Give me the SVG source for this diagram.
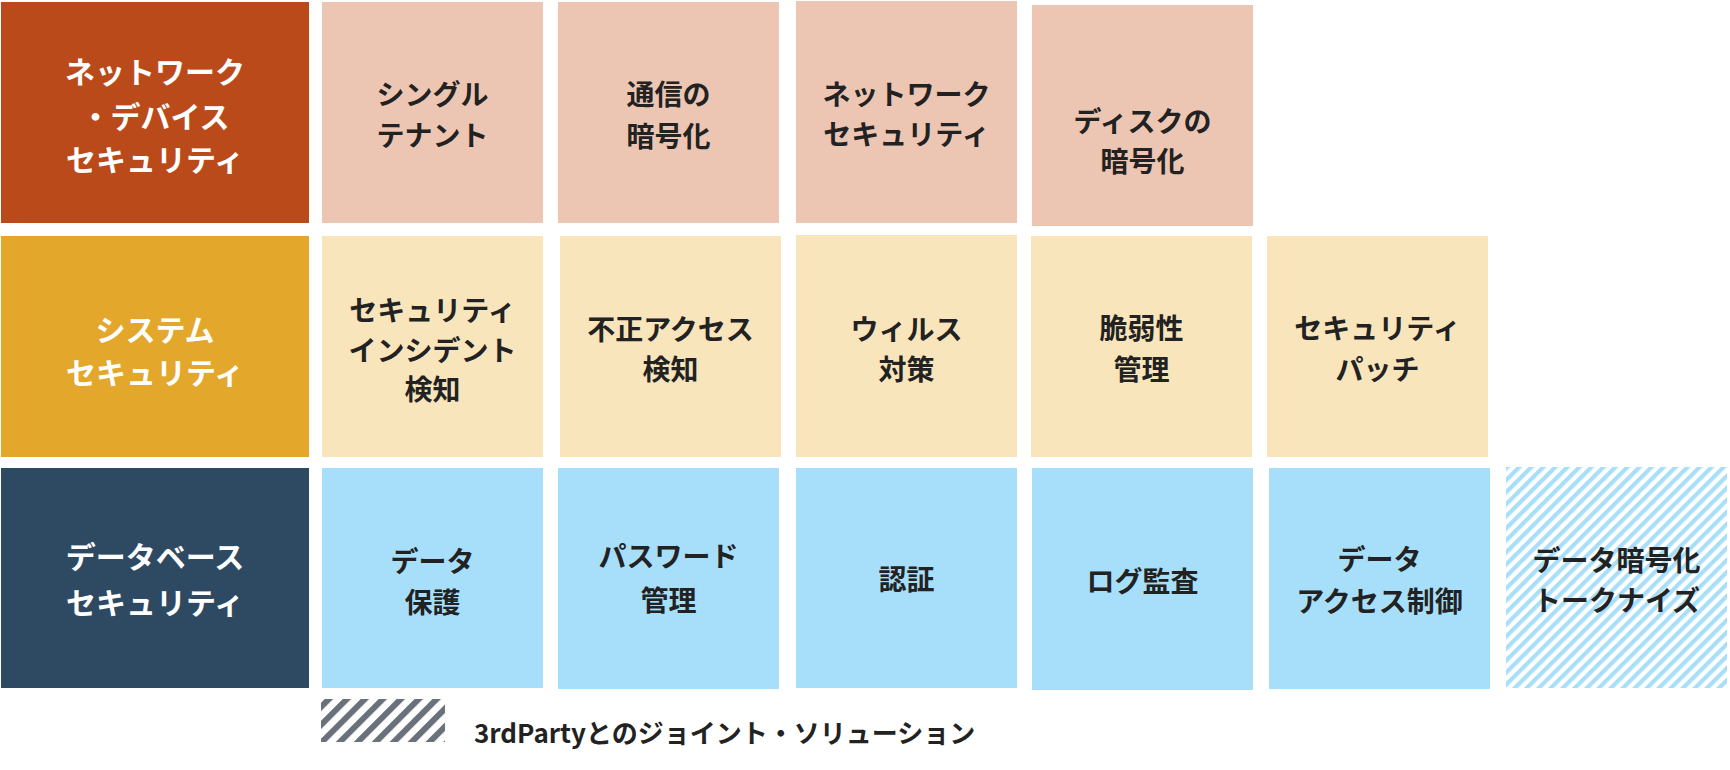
<svg xmlns="http://www.w3.org/2000/svg" width="1730" height="770" viewBox="0 0 1730 770">
  <style>
    text { font-family: "Noto Sans CJK JP", "Noto Sans", sans-serif; font-weight: bold; text-anchor: middle; dominant-baseline: central; }
    .hd { fill: #ffffff; font-size: 30px; }
    .cl { fill: #222222; font-size: 28px; }
    .lg { fill: #222222; font-size: 26px; text-anchor: start; }
    .h1 { fill: #bb4a1a; }
    .c1 { fill: #edc6b3; }
    .h2 { fill: #e2a72b; }
    .c2 { fill: #f9e5bb; }
    .h3 { fill: #2e4a62; }
    .c3 { fill: #a7dffb; }
  </style>
  <defs>
    <pattern id="hatchBlue" patternUnits="userSpaceOnUse" width="8.5" height="8.5" patternTransform="rotate(45)">
      <rect x="0" y="0" width="8.5" height="8.5" fill="#ffffff"/>
      <rect x="0" y="0" width="4.2" height="8.5" fill="#a7dffb"/>
    </pattern>
    <pattern id="hatchGray" patternUnits="userSpaceOnUse" width="12.7" height="12.7" patternTransform="rotate(45)">
      <rect x="0" y="0" width="12.7" height="12.7" fill="#ffffff"/>
      <rect x="0" y="0" width="6" height="12.7" fill="#6b717a"/>
    </pattern>
  </defs>
  <rect x="0" y="0" width="1730" height="770" fill="#ffffff"/>

  <g id="connectors"></g>

  <!-- Row 1 -->
  <g id="header-network">
    <rect class="h1" x="1" y="2" width="308" height="221"/>
    <text class="hd" x="155" y="70">ネットワーク</text>
    <text class="hd" x="155" y="115">・デバイス</text>
    <text class="hd" x="155" y="158">セキュリティ</text>
  </g>
  <g id="single-tenant">
    <rect class="c1" x="322" y="2" width="221" height="221"/>
    <text class="cl" x="432.5" y="93">シングル</text>
    <text class="cl" x="432.5" y="134">テナント</text>
  </g>
  <g id="comm-encryption">
    <rect class="c1" x="558" y="2" width="221" height="221"/>
    <text class="cl" x="668.5" y="93">通信の</text>
    <text class="cl" x="668.5" y="135">暗号化</text>
  </g>
  <g id="network-security">
    <rect class="c1" x="796" y="1" width="221" height="222"/>
    <text class="cl" x="906.5" y="93">ネットワーク</text>
    <text class="cl" x="906.5" y="133">セキュリティ</text>
  </g>
  <g id="disk-encryption">
    <rect class="c1" x="1032" y="5" width="221" height="221"/>
    <text class="cl" x="1142.5" y="120">ディスクの</text>
    <text class="cl" x="1142.5" y="160">暗号化</text>
  </g>

  <!-- Row 2 -->
  <g id="header-system">
    <rect class="h2" x="1" y="236" width="308" height="221"/>
    <text class="hd" x="155" y="328">システム</text>
    <text class="hd" x="155" y="371">セキュリティ</text>
  </g>
  <g id="incident-detection">
    <rect class="c2" x="322" y="236" width="221" height="221"/>
    <text class="cl" x="432.5" y="309">セキュリティ</text>
    <text class="cl" x="432.5" y="349">インシデント</text>
    <text class="cl" x="432.5" y="388">検知</text>
  </g>
  <g id="intrusion-detection">
    <rect class="c2" x="560" y="236" width="221" height="221"/>
    <text class="cl" x="670.5" y="328">不正アクセス</text>
    <text class="cl" x="670.5" y="368">検知</text>
  </g>
  <g id="antivirus">
    <rect class="c2" x="796" y="235" width="221" height="222"/>
    <text class="cl" x="906.5" y="328">ウィルス</text>
    <text class="cl" x="906.5" y="368">対策</text>
  </g>
  <g id="vulnerability">
    <rect class="c2" x="1031" y="236" width="221" height="221"/>
    <text class="cl" x="1141.5" y="327">脆弱性</text>
    <text class="cl" x="1141.5" y="368">管理</text>
  </g>
  <g id="security-patch">
    <rect class="c2" x="1267" y="236" width="221" height="221"/>
    <text class="cl" x="1377.5" y="327">セキュリティ</text>
    <text class="cl" x="1377.5" y="368">パッチ</text>
  </g>

  <!-- Row 3 -->
  <g id="header-database">
    <rect class="h3" x="1" y="468" width="308" height="220"/>
    <text class="hd" x="155" y="555">データベース</text>
    <text class="hd" x="155" y="601">セキュリティ</text>
  </g>
  <g id="data-protection">
    <rect class="c3" x="322" y="468" width="221" height="220"/>
    <text class="cl" x="432.5" y="560">データ</text>
    <text class="cl" x="432.5" y="601">保護</text>
  </g>
  <g id="password-management">
    <rect class="c3" x="558" y="468" width="221" height="221"/>
    <text class="cl" x="668.5" y="555">パスワード</text>
    <text class="cl" x="668.5" y="599">管理</text>
  </g>
  <g id="authentication">
    <rect class="c3" x="796" y="468" width="221" height="220"/>
    <text class="cl" x="906.5" y="578">認証</text>
  </g>
  <g id="log-audit">
    <rect class="c3" x="1032" y="468" width="221" height="222"/>
    <text class="cl" x="1142.5" y="580">ログ監査</text>
  </g>
  <g id="data-access-control">
    <rect class="c3" x="1269" y="468" width="221" height="221"/>
    <text class="cl" x="1379.5" y="558">データ</text>
    <text class="cl" x="1379.5" y="600">アクセス制御</text>
  </g>
  <g id="data-tokenize">
    <rect x="1506" y="467" width="221" height="221" fill="url(#hatchBlue)"/>
    <text class="cl" x="1616.5" y="559">データ暗号化</text>
    <text class="cl" x="1616.5" y="599">トークナイズ</text>
  </g>

  <!-- Legend -->
  <g id="legend">
    <rect x="321" y="699" width="124" height="43" fill="url(#hatchGray)"/>
    <text class="lg" x="474" y="731">3rdPartyとのジョイント・ソリューション</text>
  </g>
</svg>
